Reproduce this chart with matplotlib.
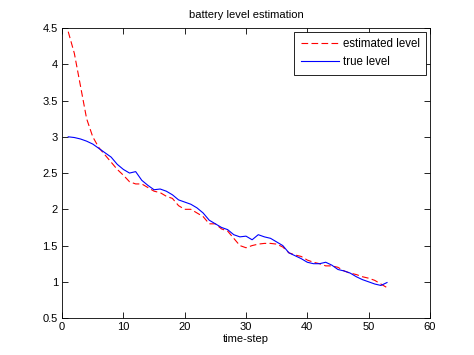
import numpy as np
import matplotlib
matplotlib.use("Agg")
import matplotlib.pyplot as plt

# --- Data ---
steps = np.arange(1, 54)
true_level = [3.00, 2.99, 2.97, 2.94, 2.90, 2.84, 2.78, 2.72, 2.62, 2.55,
              2.50, 2.52, 2.40, 2.33, 2.27, 2.28, 2.25, 2.20, 2.13, 2.10,
              2.07, 2.02, 1.95, 1.85, 1.80, 1.75, 1.72, 1.65, 1.62, 1.63,
              1.58, 1.65, 1.62, 1.60, 1.55, 1.50, 1.40, 1.36, 1.32, 1.27,
              1.25, 1.25, 1.27, 1.23, 1.17, 1.15, 1.12, 1.07, 1.03, 1.00,
              0.97, 0.95, 0.99]
est_level = [4.45, 4.15, 3.70, 3.25, 3.00, 2.85, 2.75, 2.65, 2.55, 2.47,
             2.38, 2.35, 2.35, 2.30, 2.25, 2.23, 2.18, 2.15, 2.05, 2.00,
             2.00, 1.95, 1.90, 1.80, 1.80, 1.73, 1.70, 1.60, 1.50, 1.47,
             1.50, 1.52, 1.53, 1.53, 1.52, 1.48, 1.40, 1.37, 1.35, 1.30,
             1.27, 1.25, 1.22, 1.22, 1.20, 1.15, 1.12, 1.10, 1.07, 1.05,
             1.02, 0.97, 0.92]

plt.rcParams['font.family'] = ['Liberation Sans', 'DejaVu Sans']
plt.rcParams['font.size'] = 8

fig = plt.figure(figsize=(4.74, 3.55), dpi=100)
ax = fig.add_axes([0.131, 0.104, 0.776, 0.817])

ax.plot(steps, est_level, color='red', linestyle=(0, (6, 3)), linewidth=0.8,
        label='estimated level')
ax.plot(steps, true_level, color='blue', linewidth=0.8, label='true level')

ax.set_xlim(0, 60)
ax.set_ylim(0.5, 4.5)
ax.set_xticks(np.arange(0, 61, 10))
ax.set_yticks(np.arange(0.5, 4.51, 0.5))
ax.set_yticklabels(['0.5', '1', '1.5', '2', '2.5', '3', '3.5', '4', '4.5'])
ax.tick_params(direction='in', top=True, right=True, length=4, width=0.6, pad=3)
for s in ax.spines.values():
    s.set_linewidth(0.6)

ax.set_title('battery level estimation', fontsize=8, pad=7)
ax.set_xlabel('time-step', labelpad=1)

leg = ax.legend(loc='upper right', fancybox=False, framealpha=1,
                edgecolor='black', borderaxespad=0.3, handlelength=3.3,
                handletextpad=0.3, borderpad=0.6, labelspacing=0.5,
                fontsize=8.3)
leg.get_frame().set_linewidth(0.6)

fig.savefig('out.png', dpi=100)
